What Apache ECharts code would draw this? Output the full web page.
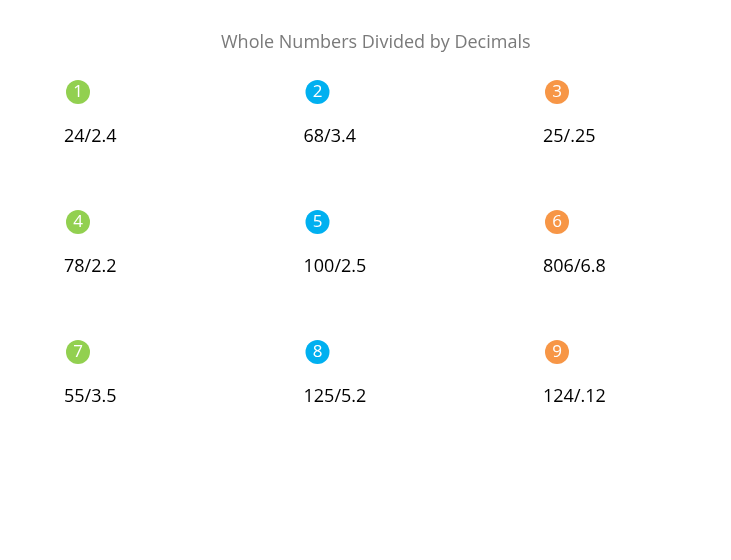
<!DOCTYPE html>
<html><head><meta charset="utf-8">
<script src="https://cdn.jsdelivr.net/npm/echarts@6/dist/echarts.min.js"></script>
<style>html,body{margin:0;padding:0;background:#fff}#c{width:731px;height:560px}</style>
</head><body><div id="c"></div>
<script>
const numbers = ['1','2','3','4','5','6','7','8','9'];
const problems = ['24/2.4','68/3.4','25/.25','78/2.2','100/2.5','806/6.8','55/3.5','125/5.2','124/.12'];
const columnColors = ['#92D050','#00B0F0','#F79646'];

const pts = numbers.map((n, i) => ({
  value: [i % 3, Math.floor(i / 3)],
  num: n, prob: problems[i],
  itemStyle: { color: columnColors[i % 3], opacity: 1 }
}));

const chart = echarts.init(document.getElementById('c'));
chart.setOption({
  animation: false,
  title: { text: 'Whole Numbers Divided by Decimals', left: 216, top: 29,
    textStyle: { color: '#7a7a7a', fontSize: 18, fontWeight: 'normal', fontFamily: 'Open Sans' } },
  grid: { left: 78, right: 174, top: 92, bottom: 208 },
  xAxis: { type: 'value', min: 0, max: 2, show: false },
  yAxis: { type: 'value', min: 0, max: 2, inverse: true, show: false },
  series: [
    { type: 'scatter', symbolSize: 24, data: pts, itemStyle: { opacity: 1 },
      label: { show: true, position: 'inside', color: '#fff', fontSize: 17, fontFamily: 'Open Sans', opacity: 1,
        formatter: p => p.data.num } },
    { type: 'scatter', symbolSize: 1, itemStyle: { color: 'rgba(0,0,0,0)', opacity: 1 },
      data: pts.map(p => ({ value: p.value, prob: p.prob })),
      label: { show: true, position: 'inside', offset: [-14, 45], align: 'left', opacity: 1,
        color: '#000000', fontSize: 18, fontFamily: 'Open Sans', formatter: p => p.data.prob } }
  ]
});
</script></body></html>
